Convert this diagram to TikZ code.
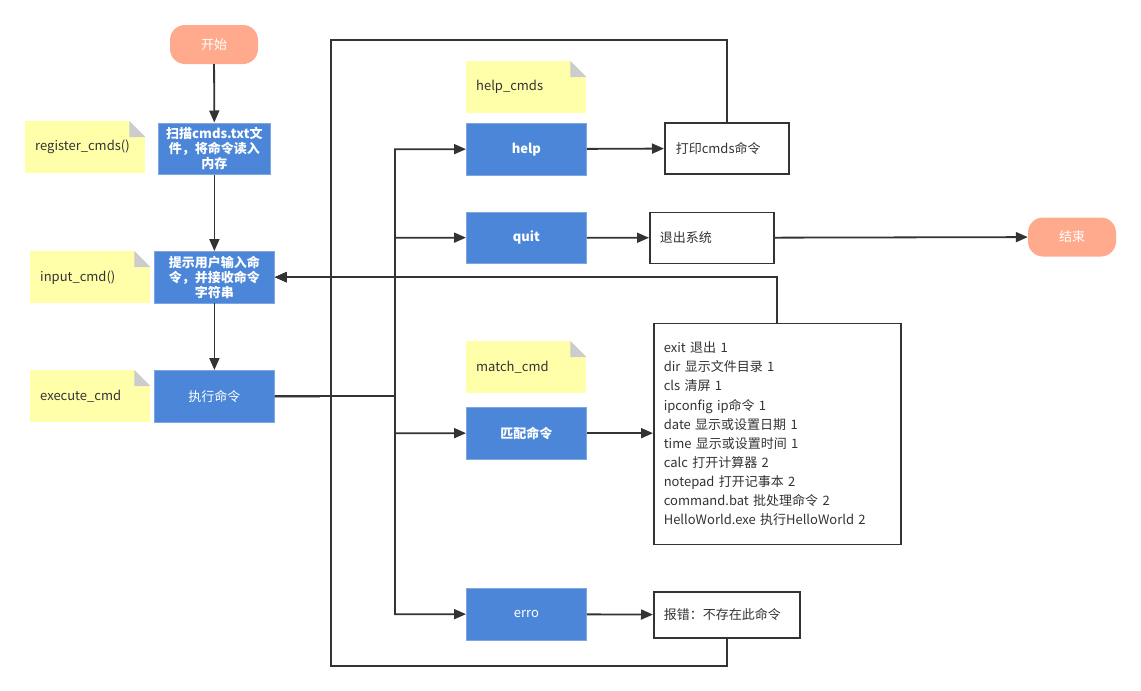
\documentclass[tikz,border=0pt]{standalone}
\usepackage{fontspec}
\setmainfont{Noto Sans CJK SC}
\usetikzlibrary{arrows.meta,calc}
\definecolor{bl}{HTML}{4C86D9}
\definecolor{blb}{HTML}{7EA6E0}
\definecolor{salmon}{HTML}{FFAA8D}
\definecolor{yel}{HTML}{FFFFAA}
\definecolor{dogc}{HTML}{CCCCCC}
\definecolor{lc}{HTML}{333333}
\definecolor{tc}{HTML}{333333}
\newcommand\mydogear[1]{%
  \fill[white] ($(#1.north east)+(-16,0)$) -- (#1.north east) -- ($(#1.north east)+(0,16)$) -- cycle;
  \fill[dogc] ($(#1.north east)+(-16,0)$) -- ($(#1.north east)+(-16,16)$) -- ($(#1.north east)+(0,16)$) -- cycle;}
\begin{document}
\begin{tikzpicture}[x=1pt,y=-1pt,
  every node/.style={font=\fontsize{13}{15}\selectfont},
  term/.style={rectangle, rounded corners=15pt, fill=salmon, text=white, minimum width=88pt, minimum height=39pt, inner sep=0pt},
  proc/.style={rectangle, fill=bl, draw=blb, line width=0.8pt, text=white, inner sep=0pt, align=center, minimum width=120pt, minimum height=51.5pt},
  note/.style={rectangle, fill=yel, inner ysep=0pt, inner xsep=10pt, text=tc, align=left, text width=100pt, minimum height=52pt},
  wbox/.style={rectangle, draw=lc, line width=1.6pt, fill=white, text=tc, align=left, inner ysep=0pt, inner xsep=10pt},
  conn/.style={draw=lc, line width=1.8pt, -{Triangle[length=12pt,width=10pt]}},
]
\useasboundingbox (0,0) rectangle (1141,691);

% terminals
\node[term] (start) at (214,44.5) {开始};
\node[term] (end) at (1072,237) {结束};

% notes
\node[note, anchor=north west] (n1) at (25,121) {register\_cmds()};
\node[note, anchor=north west] (n2) at (30,251) {input\_cmd()};
\node[note, anchor=north west] (n3) at (30,370) {execute\_cmd};
\node[note, anchor=north west] (n4) at (466,61) {help\_cmds};
\node[note, anchor=north west] (n5) at (466,341) {match\_cmd};
\mydogear{n1}\mydogear{n2}\mydogear{n3}\mydogear{n4}\mydogear{n5}

% process boxes
\node[proc, minimum width=112pt, anchor=north west, font=\fontsize{13}{15}\selectfont\bfseries] (scan) at (158,122.5) {扫描cmds.txt文\\件，将命令读入\\内存};
\node[proc, anchor=north west, font=\fontsize{13}{15}\selectfont\bfseries] (prompt) at (154,251) {提示用户输入命\\令，并接收命令\\字符串};
\node[proc, anchor=north west] (exec) at (154,370) {执行命令};
\node[proc, anchor=north west, font=\fontsize{13}{15}\selectfont\bfseries] (help) at (466,123) {help};
\node[proc, anchor=north west, font=\fontsize{13}{15}\selectfont\bfseries] (quit) at (466,211.5) {quit};
\node[proc, anchor=north west, font=\fontsize{13}{15}\selectfont\bfseries] (match) at (466,407) {匹配命令};
\node[proc, anchor=north west] (erro) at (466,588) {erro};

% white boxes
\node[wbox, anchor=north west, minimum width=124pt, minimum height=51pt, text width=102pt] (print) at (664,122) {打印cmds命令};
\node[wbox, anchor=north west, minimum width=124pt, minimum height=51pt, text width=104pt] (exit) at (649,211.5) {退出系统};
\node[wbox, anchor=north west, minimum width=146pt, minimum height=46pt, text width=126pt] (errmsg) at (653,591) {报错：不存在此命令};
\node[wbox, anchor=north west, minimum width=247pt, minimum height=221pt, text width=227pt, font=\fontsize{13}{19.1}\selectfont] (big) at (653,322.5) {exit 退出 1\\dir 显示文件目录 1\\cls 清屏 1\\ipconfig ip命令 1\\date 显示或设置日期 1\\time 显示或设置时间 1\\calc 打开计算器 2\\notepad 打开记事本 2\\command.bat 批处理命令 2\\HelloWorld.exe 执行HelloWorld 2\\[4pt]};

% helper coordinates
\coordinate (bus) at (395,396);
\coordinate (lt) at (331,40);
\coordinate (lb) at (331,666);

% main flow
\draw[conn] (start) -- (scan);
\draw[conn] (scan) -- (prompt);
\draw[conn] (prompt) -- (exec);

% dispatch
\draw[conn] (exec.east) -- (bus) |- (help.west);
\draw[conn] (exec.east) -- (bus) |- (quit.west);
\draw[conn] (exec.east) -- (bus) |- (match.west);
\draw[conn] (exec.east) -- (bus) |- (erro.west);

\draw[conn] (help) -- (print);
\draw[conn] (quit) -- (exit);
\draw[conn] (match) -- (match -| big.west);
\draw[conn] (erro) -- (errmsg);
\draw[conn] (exit) -- (end);

% loops back
\draw[conn] (print.north) |- (lt) |- (prompt.east);
\draw[conn] (errmsg.south) |- (lb) |- (prompt.east);
\draw[conn] (big.north) |- (prompt.east);
\end{tikzpicture}
\end{document}
